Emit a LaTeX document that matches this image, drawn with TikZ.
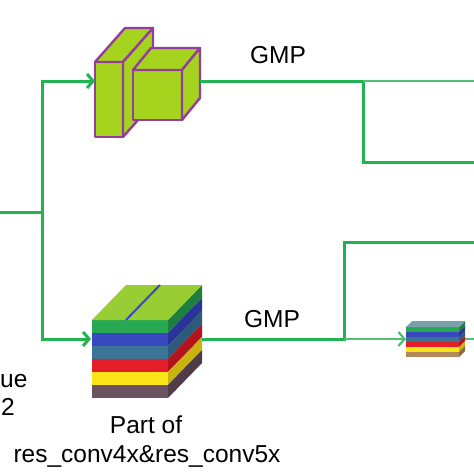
\documentclass[tikz,border=0pt]{standalone}
\usepackage{fontspec}
\setmainfont{Liberation Sans}
\usepackage{tikz}
\usetikzlibrary{arrows.meta}
\definecolor{flowgreen}{RGB}{34,178,82}
\definecolor{blocklime}{RGB}{166,212,30}
\definecolor{blockpurple}{RGB}{150,60,160}
\definecolor{toplime}{RGB}{152,206,52}
\definecolor{topsteel}{RGB}{122,160,170}
\definecolor{lgreen}{RGB}{40,168,82}
\definecolor{sgreen}{RGB}{30,128,62}
\definecolor{lblue}{RGB}{56,72,190}
\definecolor{sblue}{RGB}{40,52,150}
\definecolor{lsteel}{RGB}{60,116,150}
\definecolor{ssteel}{RGB}{44,90,120}
\definecolor{lred}{RGB}{228,30,40}
\definecolor{sred}{RGB}{178,20,30}
\definecolor{lyellow}{RGB}{250,230,24}
\definecolor{syellow}{RGB}{200,180,12}
\definecolor{lmauve}{RGB}{106,82,96}
\definecolor{smauve}{RGB}{80,60,72}
\definecolor{ltan}{RGB}{178,136,92}
\definecolor{stan}{RGB}{140,104,70}
\tikzstyle{flow}=[draw=flowgreen, line width=3pt]
\tikzstyle{thinflow}=[draw=flowgreen!80, line width=2.3pt]
\tikzstyle{arr}=[-{Straight Barb[length=6pt,width=14pt]}]
\tikzstyle{lbl}=[font=\fontsize{24.5}{29}\selectfont, inner sep=0pt, anchor=base]
\tikzstyle{block}=[fill=blocklime, draw=blockpurple, line width=2.4pt, line join=round]

\begin{document}
\begin{tikzpicture}[x=1pt,y=-1pt]
    \clip (0,0) rectangle (474,474);

    \filldraw[block] (95,62) rectangle (123,137);
    \filldraw[block] (95,62) -- (125,28) -- (153,28) -- (123,62) -- cycle;
    \filldraw[block] (123,62) -- (153,28) -- (153,103) -- (123,137) -- cycle;
    \filldraw[block] (133,70) rectangle (182,120);
    \filldraw[block] (133,70) -- (151,48) -- (200,48) -- (182,70) -- cycle;
    \filldraw[block] (182,70) -- (200,48) -- (200,98) -- (182,120) -- cycle;

    \foreach \f/\s [count=\i from 0] in {lgreen/sgreen,lblue/sblue,lsteel/ssteel,lred/sred,lyellow/syellow,lmauve/smauve}{
        \fill[\f] (92,{320+13*\i}) rectangle (168,{333+13*\i});
        \fill[\s] (168,{320+13*\i}) -- (202,{285+13*\i}) -- (202,{298+13*\i}) -- (168,{333+13*\i}) -- cycle;
    }
    \fill[toplime] (92,320) -- (168,320) -- (202,285) -- (126,285) -- cycle;
    \draw[lblue, line width=2pt] (126,320) -- (160,285);

    \foreach \f/\s [count=\i from 0] in {lgreen/sgreen,lblue/sblue,lsteel/ssteel,lred/sred,lyellow/syellow,ltan/stan}{
        \fill[\f] (406,{327+5*\i}) rectangle (459,{332+5*\i});
        \fill[\s] (459,{327+5*\i}) -- (465,{321+5*\i}) -- (465,{326+5*\i}) -- (459,{332+5*\i}) -- cycle;
    }
    \fill[topsteel] (406,327) -- (459,327) -- (465,321) -- (412,321) -- cycle;

    \coordinate (src) at (0,212);
    \coordinate (fork) at (42,212);
    \coordinate (poolin) at (95,81);
    \coordinate (poolout) at (200,81);
    \coordinate (tbend) at (363,81);
    \coordinate (tend) at (474,81);
    \coordinate (tlow) at (474,162);
    \coordinate (cubein) at (91,339);
    \coordinate (cubeout) at (202,339);
    \coordinate (bbend) at (344,339);
    \coordinate (bhigh) at (474,242);
    \coordinate (smallin) at (406,339);
    \coordinate (smallout) at (465,339);
    \coordinate (bend) at (474,339);

    \draw[flow] (src) -- (fork);
    \draw[flow, arr] (fork) |- (poolin);
    \draw[flow, arr] (fork) |- (cubein);
    \draw[flow] (poolout) -- (tbend) |- (tlow);
    \draw[thinflow] (tbend) -- (tend);
    \draw[flow] (cubeout) -- (bbend) |- (bhigh);
    \draw[thinflow, arr] (bbend) -- (smallin);
    \draw[thinflow] (smallout) -- (bend);

    \node[lbl] (gmptop) at (278,63) {GMP};
    \node[lbl] (gmpbot) at (272,327) {GMP};
    \node[lbl] (partof) at (146,433) {Part of};
    \node[lbl] (convname) at (147,462) {res\_conv4x\&res\_conv5x};
    \node[lbl, anchor=base west] (cuta) at (0,387) {ue};
    \node[lbl, anchor=base west] (cutb) at (1,415) {2};
\end{tikzpicture}
\end{document}
